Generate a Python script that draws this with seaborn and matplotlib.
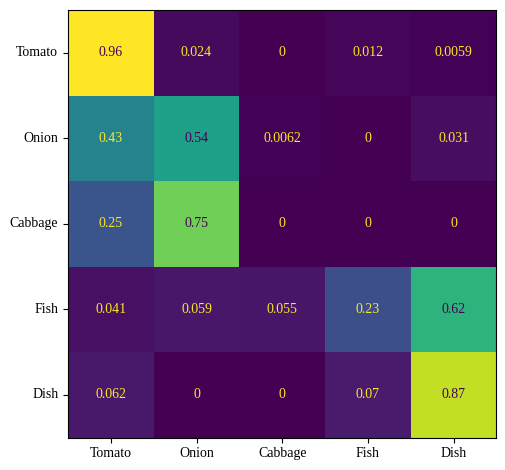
import numpy as np
import pandas as pd
import seaborn as sns
import matplotlib.pyplot as plt
from matplotlib import colormaps

# class names and normalised confusion matrix (rows = true, cols = predicted)
classes = ['Tomato', 'Onion', 'Cabbage', 'Fish', 'Dish']
row_tomato = [0.96, 0.024, 0, 0.012, 0.0059]
row_onion = [0.43, 0.54, 0.0062, 0, 0.031]
row_cabbage = [0.25, 0.75, 0, 0, 0]
row_fish = [0.041, 0.059, 0.055, 0.23, 0.62]
row_dish = [0.062, 0, 0, 0.07, 0.87]

plt.rcParams['font.family'] = ['Liberation Serif', 'DejaVu Serif']
plt.rcParams['font.size'] = 10

cm = pd.DataFrame([row_tomato, row_onion, row_cabbage, row_fish, row_dish],
                  index=classes, columns=classes)

fig = plt.figure(figsize=(5.06, 4.70), dpi=100)
ax = fig.add_axes([0.1344, 0.0687, 0.8466, 0.910])

cmap = colormaps['viridis']
sns.heatmap(cm, ax=ax, cmap=cmap, annot=True, fmt='.2g', cbar=False,
            vmin=cm.values.min(), vmax=cm.values.max(),
            annot_kws={'fontsize': 10})

# text colour like sklearn: dark on bright cells, yellow on dark cells
thresh = (cm.values.max() + cm.values.min()) / 2.0
for txt, val in zip(ax.texts, cm.values.ravel()):
    txt.set_color(cmap(0) if val >= thresh else cmap(1.0))

for spine in ax.spines.values():
    spine.set_visible(True)
    spine.set_linewidth(0.8)
    spine.set_color('black')

ax.tick_params(axis='both', which='both', length=3.5, width=0.8, direction='out')
ax.set_yticklabels(classes, rotation=0)
ax.set_xticklabels(classes, rotation=0)
ax.set_xlabel('')
ax.set_ylabel('')

fig.savefig('out.png', dpi=100)
